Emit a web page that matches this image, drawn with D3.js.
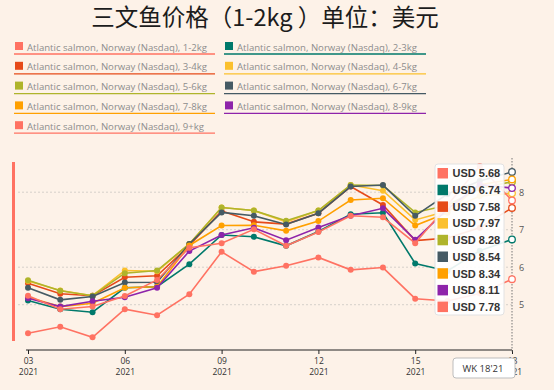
<!DOCTYPE html>
<html>
<head>
<meta charset="utf-8">
<script src="https://cdn.jsdelivr.net/npm/d3@7"></script>
<style>
  body { margin: 0; background: #fdf2e8; }
  svg { display: block; }
</style>
</head>
<body>
<svg width="554" height="390"></svg>
<script>
var svg = d3.select('svg');

// weeks of 2021
var weeks = [3, 4, 5, 6, 7, 8, 9, 10, 11, 12, 13, 14, 15, 16, 17, 18];
var tickWeeks = [3, 6, 9, 12, 15, 18];

var names = ['1-2kg', '2-3kg', '3-4kg', '4-5kg', '5-6kg', '6-7kg', '7-8kg', '8-9kg', '9+kg'];
var colors = ['#ff7262', '#00796b', '#e64a19', '#fbc02d', '#afb42b', '#455a64', '#ffa000', '#8e24aa', '#ff7262'];

var kg1_2 = [4.24, 4.41, 4.13, 4.88, 4.72, 5.28, 6.41, 5.88, 6.04, 6.26, 5.93, 5.99, 5.16, 5.10, 5.30, 5.68];
var kg2_3 = [5.11, 4.88, 4.80, 5.45, 5.48, 6.08, 6.86, 6.81, 6.57, 6.95, 7.41, 7.45, 6.10, 5.90, 6.44, 6.74];
var kg3_4 = [5.57, 5.29, 5.24, 5.73, 5.77, 6.58, 7.50, 7.21, 7.15, 7.44, 8.15, 7.66, 6.71, 6.78, 7.05, 7.58];
var kg4_5 = [5.63, 5.38, 5.24, 5.91, 5.89, 6.62, 7.59, 7.51, 7.21, 7.51, 8.19, 8.04, 7.26, 7.50, 7.90, 7.97];
var kg5_6 = [5.65, 5.37, 5.24, 5.84, 5.91, 6.62, 7.59, 7.51, 7.24, 7.51, 8.19, 8.18, 7.46, 7.65, 8.10, 8.28];
var kg6_7 = [5.45, 5.13, 5.22, 5.59, 5.60, 6.62, 7.46, 7.37, 7.14, 7.44, 8.15, 8.19, 7.37, 7.95, 8.30, 8.54];
var kg7_8 = [5.20, 4.95, 5.04, 5.45, 5.48, 6.58, 7.11, 7.12, 6.97, 7.23, 7.79, 7.84, 7.11, 7.45, 8.20, 8.34];
var kg8_9 = [5.17, 4.95, 5.09, 5.20, 5.45, 6.43, 6.86, 7.05, 6.72, 7.06, 7.37, 7.57, 6.73, 7.55, 8.20, 8.11];
var kg9p  = [5.24, 4.88, 4.95, 5.23, 5.66, 6.52, 6.64, 7.01, 6.57, 6.94, 7.37, 7.33, 6.64, 7.65, 8.70, 7.78];

var yTicks = [5, 6, 7, 8];

var allSeries = [kg1_2, kg2_3, kg3_4, kg4_5, kg5_6, kg6_7, kg7_8, kg8_9, kg9p];
var series = allSeries.map(function (vals, i) {
    return { name: 'Atlantic salmon, Norway (Nasdaq), ' + names[i], color: colors[i], values: vals };
});

var x = d3.scaleLinear().domain([3, 18]).range([28, 512]);
var y = d3.scaleLinear().domain([5, 8]).range([304.7, 192.2]);

// title
svg.append('text')
    .attr('x', 265).attr('y', 26)
    .attr('text-anchor', 'middle')
    .style('font-family', '"Noto Sans CJK SC", sans-serif')
    .style('font-size', '23.5px')
    .attr('fill', '#1c1c1c')
    .text('三文鱼价格（1-2kg ）单位：美元');

// legend
var legend = svg.append('g').selectAll('g')
    .data(series)
    .enter()
    .append('g')
    .attr('transform', function (d, i) {
        return 'translate(' + (i % 2 === 0 ? 14 : 224) + ',' + (42 + Math.floor(i / 2) * 19.8) + ')';
    });

legend.append('rect')
    .attr('x', 1).attr('y', 0)
    .attr('width', 8).attr('height', 8)
    .attr('fill', function (d) { return d.color; });

legend.append('text')
    .attr('x', 13).attr('y', 8.5)
    .style('font-family', '"Open Sans", sans-serif')
    .style('font-size', '9.6px')
    .attr('fill', '#8d8d8d')
    .text(function (d) { return d.name; });

legend.append('line')
    .attr('x1', 0).attr('x2', function (d, i) { return i % 2 === 0 ? 201 : 202; })
    .attr('y1', 12).attr('y2', 12)
    .attr('stroke', function (d) { return d.color; })
    .attr('stroke-width', 1.3);

// left red bar
svg.append('rect')
    .attr('x', 12).attr('y', 162)
    .attr('width', 3).attr('height', 179)
    .attr('fill', '#ff7262');

// grid lines
svg.append('g').selectAll('line')
    .data(yTicks)
    .enter()
    .append('line')
    .attr('x1', 18).attr('x2', 512)
    .attr('y1', function (d) { return y(d); })
    .attr('y2', function (d) { return y(d); })
    .attr('stroke', '#d6d0ca')
    .attr('stroke-dasharray', '2,2');

// y labels on the right
svg.append('g').selectAll('text')
    .data(yTicks)
    .enter()
    .append('text')
    .attr('x', 519)
    .attr('y', function (d) { return y(d) + 3.5; })
    .style('font-family', '"Open Sans", sans-serif')
    .style('font-size', '9px')
    .attr('fill', '#555')
    .text(function (d) { return d; });

// x axis
var xAxis = d3.axisBottom(x)
    .tickValues(tickWeeks)
    .tickSize(4)
    .tickFormat(function (d) { return d3.format('02d')(d); });

var gx = svg.append('g')
    .attr('transform', 'translate(0,350)')
    .call(xAxis);
gx.select('.domain').attr('d', 'M26,0H512').attr('stroke', '#222');
gx.selectAll('.tick line').attr('stroke', '#222');
gx.selectAll('.tick text')
    .attr('y', 8)
    .style('font-family', '"Open Sans", sans-serif')
    .style('font-size', '8.5px')
    .attr('fill', '#333');
gx.selectAll('.tick').append('text')
    .attr('y', 25)
    .attr('fill', '#333')
    .attr('text-anchor', 'middle')
    .style('font-family', '"Open Sans", sans-serif')
    .style('font-size', '8.5px')
    .text('2021');

// hover line
svg.append('line')
    .attr('x1', x(18)).attr('x2', x(18))
    .attr('y1', 158).attr('y2', 352)
    .attr('stroke', '#777')
    .attr('stroke-dasharray', '1.5,1.5');

// lines + points
var line = d3.line()
    .x(function (d, i) { return x(weeks[i]); })
    .y(function (d) { return y(d); });

var sg = svg.append('g').selectAll('g')
    .data(series)
    .enter()
    .append('g');

sg.append('path')
    .attr('d', function (d) { return line(d.values); })
    .attr('fill', 'none')
    .attr('stroke', function (d) { return d.color; })
    .attr('stroke-width', 1.6);

sg.selectAll('circle.pt')
    .data(function (d) {
        return d.values.slice(0, -1).map(function (v, i) { return { v: v, w: weeks[i], c: d.color }; });
    })
    .enter()
    .append('circle')
    .attr('class', 'pt')
    .attr('cx', function (d) { return x(d.w); })
    .attr('cy', function (d) { return y(d.v); })
    .attr('r', 3)
    .attr('fill', function (d) { return d.c; });

sg.append('circle')
    .attr('cx', x(18))
    .attr('cy', function (d) { return y(d.values[d.values.length - 1]); })
    .attr('r', 3.3)
    .attr('fill', '#fff')
    .attr('stroke', function (d) { return d.color; })
    .attr('stroke-width', 1.3);

// tooltip
var tip = svg.append('g').attr('transform', 'translate(435,164)');
tip.append('rect')
    .attr('width', 69).attr('height', 151)
    .attr('rx', 3)
    .attr('fill', '#fff')
    .attr('fill-opacity', 0.9)
    .attr('stroke', '#e2e2e2');

var rows = tip.selectAll('g')
    .data(series)
    .enter()
    .append('g')
    .attr('transform', function (d, i) { return 'translate(0,' + (9.3 + i * 16.7) + ')'; });

rows.append('rect')
    .attr('x', 2.5).attr('y', -5.3)
    .attr('width', 10.5).attr('height', 10.5)
    .attr('fill', function (d) { return d.color; });

rows.append('text')
    .attr('x', 17.5).attr('y', 4)
    .style('font-family', '"Liberation Sans", Arial, sans-serif')
    .style('font-size', '11px')
    .style('font-weight', 'bold')
    .attr('fill', '#333')
    .text(function (d) { return 'USD ' + d.values[d.values.length - 1].toFixed(2); });

// week label box
var wk = svg.append('g').attr('transform', 'translate(453,358)');
wk.append('rect')
    .attr('width', 62).attr('height', 20)
    .attr('rx', 3)
    .attr('fill', '#fff')
    .attr('stroke', '#bdbdbd');
wk.append('text')
    .attr('x', 30).attr('y', 13.8)
    .attr('text-anchor', 'middle')
    .style('font-family', '"Open Sans", sans-serif')
    .style('font-size', '9.5px')
    .attr('fill', '#333')
    .text("WK 18'21");
</script>
</body>
</html>
